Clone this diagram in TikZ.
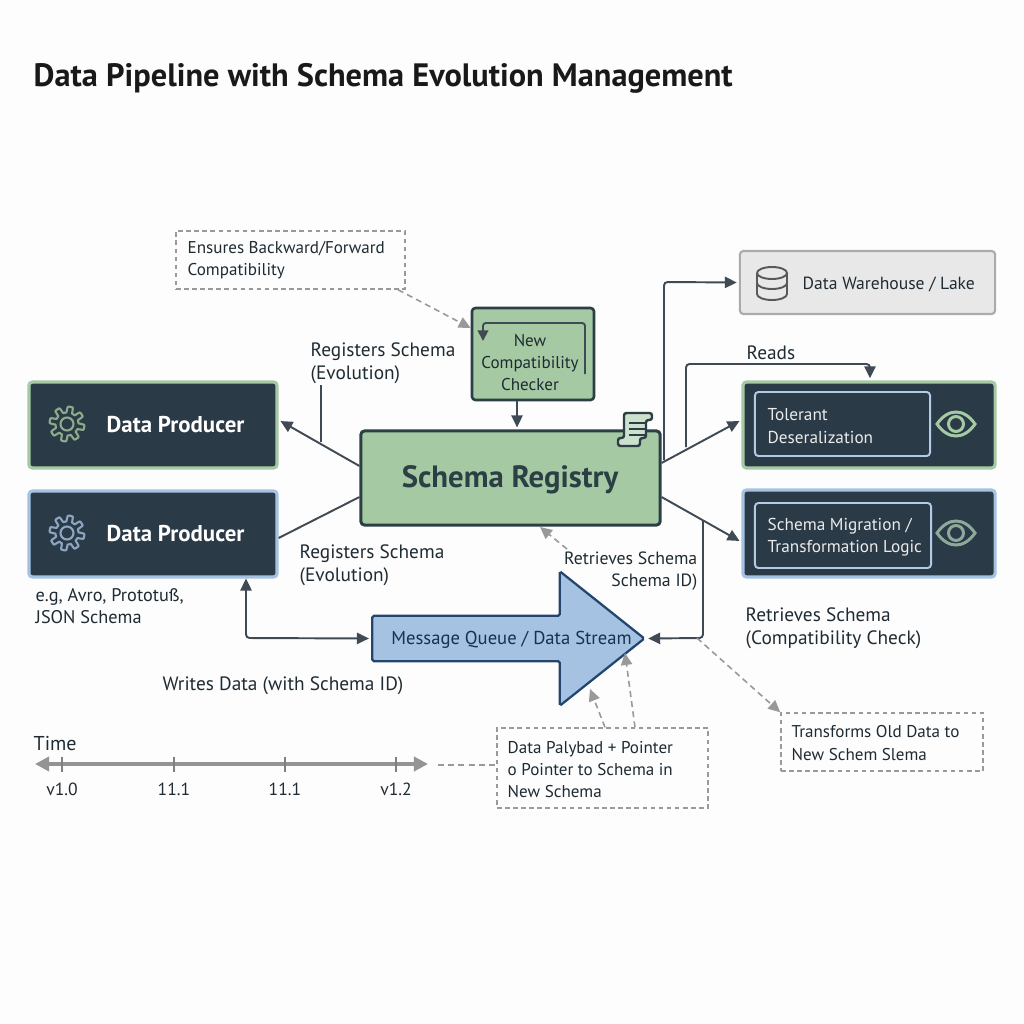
\documentclass[tikz,border=0pt]{standalone}
\usepackage{fontspec}
\setmainfont{PT Sans}
\usetikzlibrary{arrows.meta,shapes.arrows}
\definecolor{pagebg}{HTML}{FDFDFD}
\definecolor{inkdark}{HTML}{1F2B33}
\definecolor{linedark}{HTML}{3F4A54}
\definecolor{navy}{HTML}{2B3A47}
\definecolor{sage}{HTML}{A5C9A3}
\definecolor{sageedge}{HTML}{2B3F45}
\definecolor{paleblue}{HTML}{A5C2E2}
\definecolor{blueedge}{HTML}{24466E}
\definecolor{dashgray}{HTML}{999999}
\tikzset{
  conn/.style={draw=linedark, line width=0.55pt, -{Triangle[length=3.4pt,width=3.2pt]}, shorten >=0.6pt},
  plainconn/.style={draw=linedark, line width=0.55pt},
  dashconn/.style={draw=dashgray, line width=0.45pt, dash pattern=on 1.7pt off 1.2pt, -{Triangle[length=3.4pt,width=3.2pt]}},
  lbl/.style={anchor=west, inner sep=0, align=left, text=inkdark, font=\fontsize{5.5}{6.4}\selectfont},
  notebox/.style={draw=dashgray, line width=0.4pt, dash pattern=on 1.3pt off 1pt, fill=none},
  darkbox/.style={rectangle, rounded corners=1pt, fill=navy, line width=0.9pt, minimum width=2.48cm, minimum height=.86cm},
  innerbox/.style={rectangle, rounded corners=1pt, draw=paleblue!85!white, line width=0.55pt, minimum width=1.75cm},
  whitetxt/.style={anchor=west, inner sep=0, align=left, text=white, font=\fontsize{4.9}{6.3}\selectfont},
  gearicon/.pic={
    \draw[pic actions, line width=0.6pt, line join=round] plot[domain=0:360, samples=145] ({(14.5+3*max(min(2.5*sin(8*\x),1),-1))*cos(\x)},{(14.5+3*max(min(2.5*sin(8*\x),1),-1))*sin(\x)}) -- cycle;
    \draw[pic actions, line width=0.6pt] (0,0) circle (6.5);
  },
  eyeicon/.pic={
    \draw[pic actions, line width=0.85pt] (-19,0) .. controls (-8,-16) and (8,-16) .. (19,0) .. controls (8,16) and (-8,16) .. (-19,0) -- cycle;
    \draw[pic actions, line width=0.85pt] (0,0) circle (7.5);
  }
}
\begin{document}
\begin{tikzpicture}[x=0.01cm,y=-0.01cm]
\fill[pagebg] (0,0) rectangle (1024,1024);
\useasboundingbox (0,0) rectangle (1024,1024);

\node[anchor=west, inner sep=0, text=black!90, font=\fontsize{9.2}{11}\bfseries\selectfont] (title) at (33,78.5) {Data Pipeline with Schema Evolution Management};

\node[darkbox, draw=sage] (prod0) at (153,425) {};
\node[darkbox, draw=paleblue] (prod1) at (153,534) {};
\pic[draw=sage!85!black] (gear0) at (67,424) {gearicon};
\pic[draw=paleblue!85!black] (gear1) at (67,533) {gearicon};
\node[whitetxt, font=\fontsize{6.5}{8}\bfseries\selectfont] (prodtxt0) at (106,425) {Data Producer};
\node[whitetxt, font=\fontsize{6.5}{8}\bfseries\selectfont] (prodtxt1) at (106,534) {Data Producer};

\node[rectangle, rounded corners=1pt, draw=sageedge, fill=sage, line width=0.85pt, minimum width=2.99cm, minimum height=.94cm, text=sageedge, font=\fontsize{8.75}{10}\bfseries\selectfont] (reg) at (510.5,478) {};
\node[inner sep=0, text=sageedge, font=\fontsize{8.75}{10}\bfseries\selectfont] (regtxt) at (510,480) {Schema Registry};
\node[rectangle, rounded corners=1pt, draw=sageedge, fill=sage, line width=0.75pt, minimum width=1.22cm, minimum height=.92cm, inner sep=0] (chk) at (533,354) {};
\node[inner sep=0, align=center, text=inkdark, font=\fontsize{4.85}{6.3}\selectfont] (chktxt) at (530,362.5) {New\\Compatibility\\Checker};
\draw[plainconn, rounded corners=0.8pt, -{Triangle[length=3pt,width=3pt]}] (585,374) -- (585,323) -- (483,323) -- (483,341);

\fill[sage!55!white, draw=sageedge, line width=0.7pt, rounded corners=0.7pt] (624,413) -- (652,413) -- (652,420) -- (646,420) -- (646,438) -- (640,438) -- (640,446) -- (618,446) -- (618,438) -- (624,438) -- cycle;
\draw[sageedge, line width=0.6pt] (629,423) -- (645,423) (629,429) -- (645,429) (629,435) -- (645,435);

\node[rectangle, rounded corners=1pt, draw=black!33, fill=black!9, line width=0.6pt, minimum width=2.55cm, minimum height=.63cm] (wh) at (867.5,282.5) {};
\draw[black!65, line width=0.55pt] (757,273) arc (180:-180:15 and 6) (757,273) -- (757,294) (787,273) -- (787,294) (757,283) arc (180:0:15 and 6) (757,294) arc (180:0:15 and 6);
\node[lbl, font=\fontsize{5}{6.3}\selectfont] (whtxt) at (802,284) {Data Warehouse / Lake};

\node[darkbox, draw=sage, minimum width=2.52cm] (tol) at (869,425) {};
\node[darkbox, draw=paleblue, minimum width=2.52cm, minimum height=.87cm] (mig) at (869,533.5) {};
\node[innerbox, minimum height=.64cm] (tolin) at (842.5,424) {};
\node[innerbox, minimum height=.65cm, minimum width=1.76cm] (migin) at (843,535.5) {};
\node[whitetxt, text=white!92!black] (toltxt) at (767,426) {Tolerant\\Deseralization};
\node[whitetxt, text=white!92!black] (migtxt) at (767,537) {Schema Migration /\\Transformation Logic};
\pic[draw=sage] (eye0) at (956,424) {eyeicon};
\pic[draw=sage!70!paleblue!85!black] (eye1) at (956,533) {eyeicon};

\node[single arrow, single arrow head indent=0pt, single arrow tip angle=77, single arrow head extend=.445cm, minimum height=2.72cm, draw=blueedge, fill=paleblue, line width=0.65pt, rounded corners=.5pt, inner sep=0, text height=.43cm, text depth=0cm, text width=0cm, anchor=tail] (mq) at (371,638.5) {};
\node[inner sep=0, text=blueedge!70!black, font=\fontsize{5.3}{6.4}\selectfont] (mqtxt) at (511.5,640) {Message Queue / Data Stream};

\node[notebox, minimum width=2.29cm, minimum height=.58cm] (note0) at (290.5,260) {};
\node[lbl, font=\fontsize{4.85}{6.3}\selectfont] (notetxt0) at (187,260) {Ensures Backward/Forward\\Compatibility};
\node[notebox, minimum width=2.11cm, minimum height=.80cm] (pay) at (602.5,768) {};
\node[lbl, font=\fontsize{4.85}{6.3}\selectfont] (paytxt) at (507,769.5) {Data Palybad + Pointer\\o Pointer to Schema in\\New Schema};
\node[notebox, minimum width=2.02cm, minimum height=.58cm] (note1) at (882,742) {};
\node[lbl, font=\fontsize{4.85}{6.3}\selectfont] (notetxt1) at (791,743) {Transforms Old Data to\\New Schem Slema};

\node[lbl] (regl0) at (310,363) {Registers Schema\\(Evolution)};
\node[lbl] (regl1) at (299,565) {Registers Schema\\(Evolution)};
\node[lbl, font=\fontsize{5.2}{6.3}\selectfont] (fmt) at (35,606) {e.g, Avro, Prototuß,\\JSON Schema};
\node[lbl, anchor=east, align=right, font=\fontsize{5.05}{6.4}\selectfont] (ret0) at (698,571) {Retrieves Schema\\Schema ID)};
\node[lbl] (ret1) at (745,628) {Retrieves Schema\\(Compatibility Check)};
\node[lbl] (wr) at (162,686) {Writes Data (with Schema ID)};
\node[lbl] (rd) at (746,353) {Reads};

\coordinate (regup) at (321,385);
\coordinate (regmid) at (321,442);
\coordinate (wh0) at (664,460);
\coordinate (rd0) at (686,447);
\coordinate (ret2) at (703,520);
\coordinate (ret3) at (697,638);
\coordinate (ret4) at (567,549);
\coordinate (ret5) at (540,527);
\coordinate (mq0) at (590,689);
\coordinate (mq1) at (625,653);

\draw[conn](reg.west |- 0,466) -- (prod0.east |- 0,420);
\draw[plainconn](regup) -- (regmid);
\draw[plainconn](reg.west |- 0,497) -- (prod1.east |- 0,538);
\draw[conn](chk.south -| 517,0) -- (reg.north -| 517,0);
\draw[conn, rounded corners=1pt](wh0) -- (664,282) -- (wh.west);
\draw[conn, rounded corners=1pt](rd0) -- (686,364) -- (870,364) -- (870,0 |- tol.north);
\draw[conn](reg.east |- 0,463) -- (tol.west |- 0,420);
\draw[conn](reg.east |- 0,497) -- (mig.west |- 0,542);
\draw[conn, rounded corners=1pt](ret2) -- (703,638) -- (mq.tip);
\draw[conn, {Triangle[length=3.4pt,width=3.2pt]}-{Triangle[length=3.4pt,width=3.2pt]}, rounded corners=1pt](246,0 |- prod1.south) -- (246,638) -- (mq.tail);

\draw[dashconn](note0.south east -| 398,0) -- (chk.west |- 0,328);
\draw[dashconn](ret3) -- (note1.north west);
\draw[dashconn](ret4) -- (ret5);
\draw[dashconn](605,0 |- pay.north) -- (mq0);
\draw[dashconn](635,0 |- pay.north) -- (mq1);

\coordinate (tl0) at (35,764);
\coordinate (tl1) at (428,764);
\coordinate (tl2) at (438,765);
\draw[draw=black!42, line width=1.05pt, {Triangle[length=4pt,width=4pt]}-{Triangle[length=4pt,width=4pt]}](tl0) -- (tl1);
\draw[dashgray, line width=0.4pt, dash pattern=on 1.7pt off 1.2pt](tl2) -- (pay.west |- tl2);
\foreach \i/\tx/\tt in {0/62/v1.0, 1/174/11.1, 2/285/11.1, 3/396/v1.2}{
  \draw[black!50, line width=0.4pt] (\tx,757) -- (\tx,772);
  \node[inner sep=0, text=inkdark, font=\fontsize{5}{6}\selectfont] (tick\i) at (\tx,789) {\tt};
}
\node[lbl, font=\fontsize{5.7}{6.4}\selectfont] (tm) at (33,744) {Time};

\end{tikzpicture}
\end{document}
